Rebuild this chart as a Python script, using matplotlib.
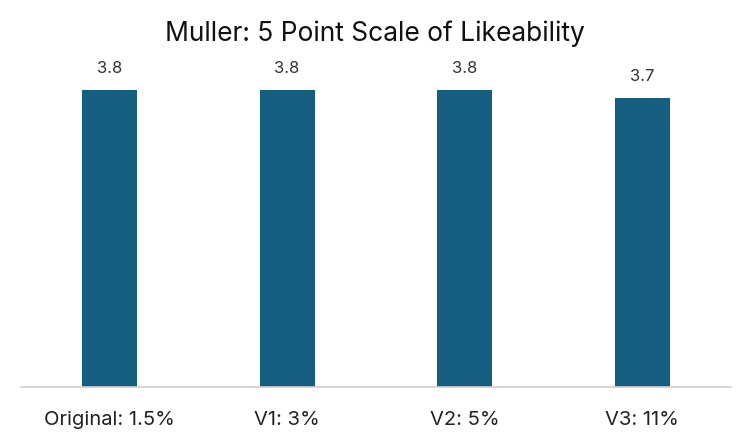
import matplotlib
matplotlib.use("Agg")
import matplotlib.pyplot as plt

categories = ["Original: 1.5%", "V1: 3%", "V2: 5%", "V3: 11%"]
values = [3.8, 3.8, 3.8, 3.7]
title = "Muller: 5 Point Scale of Likeability"

plt.rcParams['font.family'] = ['Inter', 'DejaVu Sans']

fig = plt.figure(figsize=(7.5, 4.38), dpi=100)
ax = fig.add_axes([0.0277, 0.1164, 0.9467, 0.749])
x = range(len(categories))
bars = ax.bar(x, values, width=0.31, color="#165e80")
ax.set_xlim(-0.5, len(categories) - 0.5)
ax.set_ylim(0, 4.2)
for xi, v in zip(x, values):
    ax.annotate(f"{v:.1f}", (xi, v), xytext=(0, 10), textcoords="offset points",
                ha="center", va="bottom", fontsize=12, color="#333333")
ax.set_xticks(list(x))
ax.set_xticklabels(categories, fontsize=14.5, color="#222222")
ax.tick_params(axis="x", length=0, pad=17)
ax.set_yticks([])
for s in ["top", "left", "right"]:
    ax.spines[s].set_visible(False)
ax.spines["bottom"].set_color("#d0d0d0")
ax.spines["bottom"].set_linewidth(1.2)
fig.text(0.5, 0.922, title, ha="center", va="center", fontsize=19, color="#111111")
fig.savefig("out.png", dpi=100, facecolor="white")
